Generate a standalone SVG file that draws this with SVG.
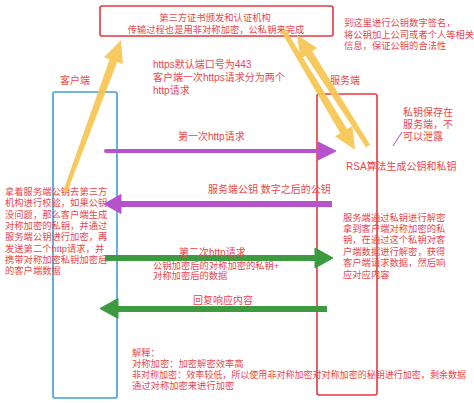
<svg xmlns="http://www.w3.org/2000/svg" width="474" height="403" viewBox="0 0 474 403">
<style>
.t{font-family:"Liberation Sans","Noto Sans CJK SC",sans-serif;fill:#e8474d;font-size:9.3px}
.m{font-size:10px}
.s{font-size:9px}
.c{text-anchor:middle}
.redbox{fill:none;stroke:#e5393e;stroke-width:1.6}
.bluebox{fill:none;stroke:#3f9fd2;stroke-width:1.6}
.pu{fill:#b652cc;stroke:#b652cc}
.gr{fill:#3d9a40;stroke:#3d9a40}
.ye{fill:#f6c552;opacity:0.92}
</style>
<rect width="474" height="403" fill="#ffffff"/>

<g id="ca">
<rect class="redbox" x="100" y="6" width="233" height="30" rx="2"/>
<text class="t c" x="215" y="21">第三方证书颁发和认证机构</text>
<text class="t c" x="216" y="33">传输过程也是用非对称加密，公私钥来完成</text>
</g>

<g id="client">
<text class="t m c" x="75" y="84">客户端</text>
<rect class="bluebox" x="53" y="92" width="64" height="306" rx="2"/>
</g>

<g id="server">
<text class="t m c" x="345" y="84">服务端</text>
<rect class="redbox" x="317" y="94" width="60" height="301" rx="2"/>
</g>

<g id="notes">
<text class="t"><tspan x="344" y="26">到这里进行公钥数字签名，</tspan><tspan x="344" y="37.5">将公钥加上公司或者个人等相关</tspan><tspan x="344" y="49">信息，保证公钥的合法性</tspan></text>
<text class="t m"><tspan x="153" y="68">https默认端口号为443</tspan><tspan x="153" y="81">客户端一次https请求分为两个</tspan><tspan x="153" y="94">http请求</tspan></text>
<text class="t m"><tspan x="403" y="116">私钥保存在</tspan><tspan x="403" y="128">服务端，不</tspan><tspan x="403" y="140">可以泄露</tspan></text>
<line x1="393" y1="146" x2="402" y2="132" stroke="#9b4fd0" stroke-width="1"/>
<text class="t m" x="346" y="170">RSA算法生成公钥和私钥</text>
<text class="t"><tspan x="5" y="195">拿着服务端公钥去第三方</tspan><tspan x="5" y="206.3">机构进行校验，如果公钥</tspan><tspan x="5" y="217.6">没问题，那么客户端生成</tspan><tspan x="5" y="228.9">对称加密的私钥，并通过</tspan><tspan x="5" y="240.2">服务端公钥进行加密，再</tspan><tspan x="5" y="251.5">发送第二个http请求，并</tspan><tspan x="5" y="262.8">携带对称加密私钥加密后</tspan><tspan x="5" y="274.1">的客户端数据</tspan></text>
<text class="t"><tspan x="343" y="220.5">服务端通过私钥进行解密</tspan><tspan x="343" y="231.9">拿到客户端对称加密的私</tspan><tspan x="343" y="243.3">钥，在通过这个私钥对客</tspan><tspan x="343" y="254.7">户端数据进行解密，获得</tspan><tspan x="343" y="266.1">客户端请求数据，然后响</tspan><tspan x="343" y="277.5">应对应内容</tspan></text>
<text class="t"><tspan x="132" y="355.5">解释：</tspan><tspan x="132" y="366.5">对称加密：加密解密效率高</tspan></text>
<text class="t s" x="132" y="377.5" textLength="334" lengthAdjust="spacingAndGlyphs">非对称加密：效率较低，所以使用非对称加密对对称加密的秘钥进行加密，剩余数据</text>
<text class="t" x="132" y="389">通过对称加密来进行加密</text>
</g>

<g id="connectors">
<polygon class="ye" points="66.9,192.7 117.2,62.0 122.8,64.1 121,40 104.0,57.2 109.6,59.2 63.1,191.3"/>
<polygon class="ye" points="280.9,31.3 340.3,133.2 335.1,136.2 355,150 352.3,126.0 347.1,129.1 285.1,28.7"/>
<polygon class="ye" points="370.1,144.7 312.3,51.3 317.3,48.1 297,35 300.5,58.9 305.5,55.7 365.9,147.3"/>

<line class="pu" x1="106" y1="151" x2="320" y2="151" stroke-width="4" stroke-linecap="round"/>
<polygon class="pu" points="318,142 336,151 318,160" stroke-width="1"/>
<text class="t m" x="178" y="140">第一次http请求</text>

<line class="pu" x1="118" y1="204" x2="332" y2="204" stroke-width="6"/>
<polygon class="pu" points="121,194.5 104,204 121,213.5" stroke-width="1"/>
<text class="t m" x="208" y="193">服务端公钥 数字之后的公钥</text>

<line class="gr" x1="105" y1="258" x2="318" y2="258" stroke-width="6"/>
<polygon class="gr" points="315,248 333,258 315,268" stroke-width="1"/>
<text class="t m" x="179" y="256">第二次http请求</text>
<text class="t"><tspan x="153" y="269">公钥加密后的对称加密的私钥+</tspan><tspan x="153" y="278.5">对称加密后的数据</tspan></text>

<line class="gr" x1="115" y1="309" x2="327" y2="309" stroke-width="6"/>
<polygon class="gr" points="118,298.5 100,308.5 118,318.5" stroke-width="1"/>
<text class="t m" x="193" y="304">回复响应内容</text>
</g>
</svg>
